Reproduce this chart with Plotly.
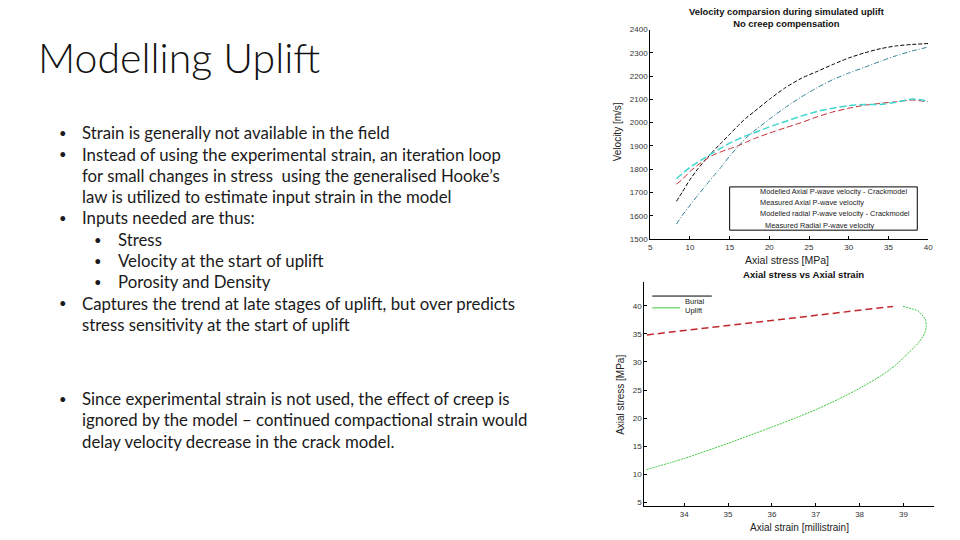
import plotly.graph_objects as go

W, H = 960, 540

# ---------------- data: top chart ----------------
stress = [8.3, 9, 10, 11, 12, 13, 14, 15, 16, 17, 18, 20, 22, 24, 26, 28, 30, 32, 34, 36, 38, 40]
v_mod_axial = [1662, 1700, 1755, 1802, 1842, 1880, 1915, 1950, 1985, 2018, 2045, 2100, 2150, 2190,
               2220, 2250, 2278, 2300, 2318, 2330, 2336, 2340]
v_meas_axial = [1564, 1600, 1645, 1688, 1730, 1772, 1812, 1857, 1895, 1932, 1962, 2015, 2065, 2110,
                2150, 2185, 2213, 2238, 2264, 2288, 2308, 2325]
v_mod_radial = [1736, 1755, 1790, 1818, 1842, 1862, 1876, 1888, 1900, 1915, 1930, 1955, 1978, 2000,
                2025, 2046, 2062, 2075, 2083, 2090, 2097, 2090]
v_meas_radial = [1760, 1780, 1808, 1830, 1852, 1872, 1893, 1912, 1928, 1943, 1955, 1982, 2005, 2028,
                 2048, 2062, 2073, 2078, 2078, 2088, 2102, 2092]
top_series_names = ["Modelled Axial P-wave velocity - Crackmodel",
                    "Measured Axial P-wave velocity",
                    "Modelled radial P-wave velocity - Crackmodel",
                    "Measured Radial P-wave velocity"]
top_x_ticks = [5, 10, 15, 20, 25, 30, 35, 40]
top_y_ticks = [1500, 1600, 1700, 1800, 1900, 2000, 2100, 2200, 2300, 2400]

# ---------------- data: bottom chart ----------------
burial_strain = [32.9, 34.0, 35.0, 36.0, 37.0, 38.0, 38.76]
burial_stress = [34.6, 35.6, 36.5, 37.4, 38.3, 39.2, 39.9]
uplift_strain = [38.99, 39.33, 39.50, 39.52, 39.48, 39.33, 39.02, 38.8, 38.5, 38.0, 37.5,
                 37.0, 36.5, 36.0, 35.0, 34.0, 33.13]
uplift_stress = [39.9, 39.1, 37.6, 36.3, 35.0, 33.3, 30.9, 29.3, 27.6, 25.3, 23.3,
                 21.5, 19.9, 18.4, 15.5, 12.8, 10.8]
bottom_x_ticks = [34, 35, 36, 37, 38, 39]
bottom_y_ticks = [5, 10, 15, 20, 25, 30, 35, 40]

# ---------------- slide text ----------------
title_text = "Modelling Uplift"
bullets = [
    (0, "Strain is generally not available in the field", True),
    (0, "Instead of using the experimental strain, an iteration loop", True),
    (0, "for small changes in stress  using the generalised Hooke\u2019s", False),
    (0, "law is utilized to estimate input strain in the model", False),
    (0, "Inputs needed are thus:", True),
    (1, "Stress", True),
    (1, "Velocity at the start of uplift", True),
    (1, "Porosity and Density", True),
    (0, "Captures the trend at late stages of uplift, but over predicts", True),
    (0, "stress sensitivity at the start of uplift", False),
    (0, "Since experimental strain is not used, the effect of creep is", True),
    (0, "ignored by the model \u2013 continued compactional strain would", False),
    (0, "delay velocity decrease in the crack model.", False),
]
bullet_y = [131, 153, 174.5, 196, 217.5, 239.5, 261, 282.5, 304.5, 326, 401.5, 423, 444.5]


def px(x):
    return x / W


def py(y):
    return 1 - y / H


fig = go.Figure()

top_colors = ["#000000", "#2f7f95", "#c0282d", "#3fd6d0"]
top_dash = ["4px,2px", "5px,2px,1px,2px", "6px,3px", "7px,3px"]
top_width = [1, 1, 1, 1.5]
for name, vals, c, d, w in zip(top_series_names,
                               [v_mod_axial, v_meas_axial, v_mod_radial, v_meas_radial],
                               top_colors, top_dash, top_width):
    fig.add_trace(go.Scatter(x=stress, y=vals, mode="lines", name=name,
                             line=dict(color=c, dash=d, width=w, shape="spline", smoothing=0.6),
                             xaxis="x", yaxis="y", showlegend=False))

fig.add_trace(go.Scatter(x=burial_strain, y=burial_stress, mode="lines", name="Burial",
                         line=dict(color="#c0282d", dash="7px,4px", width=1.5),
                         xaxis="x2", yaxis="y2", showlegend=False))
fig.add_trace(go.Scatter(x=uplift_strain, y=uplift_stress, mode="lines", name="Uplift",
                         line=dict(color="#3cc83c", dash="2px,1px", width=1, shape="spline", smoothing=0.5),
                         xaxis="x2", yaxis="y2", showlegend=False))

tickfont = dict(family="Liberation Sans, Arial, sans-serif", size=8, color="#333333")
axis_common = dict(showgrid=False, zeroline=False, showline=True, linecolor="#000000",
                   linewidth=1, ticks="inside", ticklen=3, tickcolor="#000000",
                   tickfont=tickfont, mirror=False)

fig.update_layout(
    width=W, height=H,
    margin=dict(l=0, r=0, t=0, b=0),
    paper_bgcolor="white", plot_bgcolor="white",
    showlegend=False,
    xaxis=dict(domain=[px(653), px(933)], range=[5, 40], tickvals=top_x_ticks,
               anchor="y", **axis_common),
    yaxis=dict(domain=[py(239), py(26)], range=[1500, 2400], tickvals=top_y_ticks,
               anchor="x", **axis_common),
    xaxis2=dict(domain=[px(647), px(939)], range=[33.09, 39.7], tickvals=bottom_x_ticks,
                anchor="y2", **axis_common),
    yaxis2=dict(domain=[py(511), py(283)], range=[4.25, 44.2], tickvals=bottom_y_ticks,
                anchor="x2", **axis_common),
)

ann = []
body_font = dict(family="Lato, sans-serif", size=16.8, color="#1a1a1a")
ann.append(dict(x=px(34), y=py(54), xref="paper", yref="paper", text=title_text,
                showarrow=False, xanchor="left", yanchor="middle",
                font=dict(family="Lato, sans-serif", size=41, color="#111111", weight=300)))
for (lvl, txt, has_bullet), yy in zip(bullets, bullet_y):
    tx = 79 if lvl == 0 else 115
    bx = 55 if lvl == 0 else 91
    if has_bullet:
        ann.append(dict(x=px(bx), y=py(yy), xref="paper", yref="paper", text="\u2022",
                        showarrow=False, xanchor="left", yanchor="middle",
                        font=dict(family="Lato, sans-serif", size=13, color="#1a1a1a")))
    ann.append(dict(x=px(tx), y=py(yy), xref="paper", yref="paper", text=txt,
                    showarrow=False, xanchor="left", yanchor="middle", font=body_font))

chart_font = "Liberation Sans, Arial, sans-serif"
# chart titles
ann.append(dict(x=px(790), y=py(14), xref="paper", yref="paper",
                text="<b>Velocity comparsion during simulated uplift</b><br><b>No creep compensation</b>",
                showarrow=False, xanchor="center", yanchor="middle",
                font=dict(family=chart_font, size=9.4, color="#111111")))
ann.append(dict(x=px(807), y=py(275), xref="paper", yref="paper",
                text="<b>Axial stress vs Axial strain</b>",
                showarrow=False, xanchor="center", yanchor="middle",
                font=dict(family=chart_font, size=9.6, color="#111111")))
# axis titles
ann.append(dict(x=px(791), y=py(260), xref="paper", yref="paper", text="Axial stress [MPa]",
                showarrow=False, xanchor="center", yanchor="middle",
                font=dict(family=chart_font, size=10.5, color="#222222")))
ann.append(dict(x=px(620), y=py(130), xref="paper", yref="paper", text="Velocity [m/s]",
                showarrow=False, xanchor="center", yanchor="middle", textangle=-90,
                font=dict(family=chart_font, size=10, color="#222222")))
ann.append(dict(x=px(623), y=py(397), xref="paper", yref="paper", text="Axial stress [MPa]",
                showarrow=False, xanchor="center", yanchor="middle", textangle=-90,
                font=dict(family=chart_font, size=10, color="#222222")))
ann.append(dict(x=px(803), y=py(532), xref="paper", yref="paper", text="Axial strain [millistrain]",
                showarrow=False, xanchor="center", yanchor="middle",
                font=dict(family=chart_font, size=10, color="#222222")))
# top legend text
leg_y = [191, 202, 213, 225]
leg_x = [762, 762, 762, 767]
for name, yy, xx in zip(top_series_names, leg_y, leg_x):
    ann.append(dict(x=px(xx), y=py(yy), xref="paper", yref="paper", text=name,
                    showarrow=False, xanchor="left", yanchor="middle",
                    font=dict(family=chart_font, size=7.4, color="#222222")))
# bottom legend text
for name, yy in zip(["Burial", "Uplift"], [303, 312]):
    ann.append(dict(x=px(686), y=py(yy), xref="paper", yref="paper", text=name,
                    showarrow=False, xanchor="left", yanchor="middle",
                    font=dict(family=chart_font, size=7.5, color="#222222")))
fig.update_layout(annotations=ann)

shapes = [
    dict(type="rect", xref="paper", yref="paper", x0=px(733), x1=px(922), y0=py(230), y1=py(186),
         line=dict(color="#000000", width=1)),
    dict(type="line", xref="paper", yref="paper", x0=px(655), x1=px(715), y0=py(297), y1=py(297),
         line=dict(color="#000000", width=1)),
    dict(type="line", xref="paper", yref="paper", x0=px(655), x1=px(683), y0=py(309), y1=py(309),
         line=dict(color="#3cc83c", width=1)),
]
fig.update_layout(shapes=shapes)

fig.write_html("out.html", config={"displayModeBar": False},
               post_script="document.body.style.margin='0px';document.body.style.overflow='hidden';")
